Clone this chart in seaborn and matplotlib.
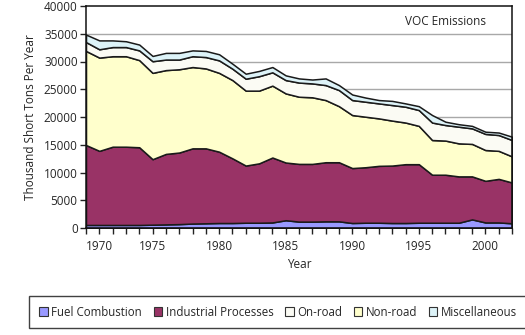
import matplotlib
matplotlib.use("Agg")
import matplotlib.pyplot as plt
from matplotlib.patches import Patch
import seaborn as sns
import numpy as np

years = list(range(1970, 2003))
fuel_combustion = [550, 550, 550, 550, 550, 600, 650, 700, 800, 850, 900, 900, 950, 950, 1000,
                   1400, 1150, 1150, 1200, 1200, 900, 950, 950, 900, 900, 950, 950, 950, 950,
                   1550, 1000, 1000, 850]
industrial = [14400, 13350, 14100, 14100, 14000, 11800, 12700, 12900, 13550, 13500, 12850, 11650,
              10300, 10700, 11700, 10400, 10400, 10400, 10650, 10650, 9900, 10000, 10250, 10350,
              10600, 10550, 8650, 8650, 8350, 7750, 7500, 7850, 7350]
non_road = [16950, 16800, 16300, 16300, 15700, 15550, 15100, 15000, 14650, 14400, 14200, 14100,
            13500, 13100, 12950, 12450, 12100, 12000, 11200, 10100, 9550, 9100, 8550, 8100,
            7500, 6900, 6250, 6150, 5950, 5850, 5550, 5050, 4700]
on_road = [1600, 1500, 1650, 1650, 1750, 2100, 1900, 1750, 1950, 2050, 2250, 2050, 2150, 2600,
           2400, 2400, 2550, 2500, 2700, 2900, 2700, 2700, 2700, 2800, 2850, 2850, 3150, 2800,
           3000, 2800, 2900, 2850, 2950]
miscellaneous = [1350, 1600, 1200, 1050, 1050, 950, 1200, 1200, 1050, 1100, 1100, 900, 900, 950,
                 950, 850, 750, 700, 1200, 900, 1000, 750, 600, 750, 600, 700, 1350, 600, 450,
                 450, 400, 450, 600]

legend_labels = ["Fuel Combustion", "Industrial Processes", "On-road", "Non-road", "Miscellaneous"]
y_ticks = [0, 5000, 10000, 15000, 20000, 25000, 30000, 35000, 40000]
x_label_years = [1970, 1975, 1980, 1985, 1990, 1995, 2000]

c_fuel = "#9999FF"
c_ind = "#993366"
c_on = "#FBFBF4"
c_non = "#FFFFCC"
c_misc = "#DDF3F8"

sns.set_style("white")
plt.rcParams["font.family"] = ["Open Sans", "DejaVu Sans"]

fig = plt.figure(figsize=(5.25, 3.35), dpi=100)
ax = fig.add_axes([86/525, 1-228/335, (512-86)/525, (228-6)/335])

for y in y_ticks[1:-1]:
    ax.axhline(y, color="#A8A8A8", lw=1.0, zorder=0)

ax.stackplot(years, fuel_combustion, industrial, non_road, on_road, miscellaneous,
             colors=[c_fuel, c_ind, c_non, c_on, c_misc],
             edgecolor="#1a1a1a", linewidth=1.1, zorder=2)

ax.set_xlim(years[0], years[-1])
ax.set_ylim(0, 40000)
ax.set_xticks(years, minor=True)
ax.set_xticks(x_label_years)
ax.set_xticklabels([str(y) for y in x_label_years], fontsize=8.5)
ax.get_xticklabels()[0].set_horizontalalignment("left")
ax.set_yticks(y_ticks)
ax.set_yticklabels([str(v) for v in y_ticks], fontsize=8.5)
ax.tick_params(axis="both", which="both", direction="out", length=4, width=1, color="#222222",
               bottom=True, left=True, pad=2)
ax.tick_params(axis="x", which="major", pad=5)
for s in ax.spines.values():
    s.set_color("#111111")
    s.set_linewidth(1.1)
    s.set_zorder(5)

ax.set_xlabel("Year", fontsize=8.5, labelpad=3)
ax.set_ylabel("Thousand Short Tons Per Year", fontsize=8.5, labelpad=5)
ax.text(0.94, 0.93, "VOC Emissions", transform=ax.transAxes, ha="right", va="center",
        fontsize=8.5)

handles = [Patch(facecolor=c, edgecolor="#333333", linewidth=0.8)
           for c in [c_fuel, c_ind, c_on, c_non, c_misc]]
leg = fig.legend(handles, legend_labels, loc="center", bbox_to_anchor=(278/525, 1-312/335),
                 ncol=5, fontsize=8.3, frameon=True, fancybox=False, handlelength=0.75,
                 handleheight=0.75, handletextpad=0.3, columnspacing=1.0, borderpad=0.85)
leg.get_frame().set_edgecolor("#111111")
leg.get_frame().set_linewidth(1.0)

fig.savefig("out.png", dpi=100)
